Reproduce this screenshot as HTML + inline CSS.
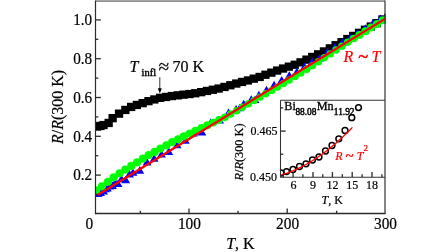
<!DOCTYPE html><html><head><meta charset="utf-8"><title>R/R(300 K) vs T</title>
<style>html,body{margin:0;padding:0;background:#fff;overflow:hidden}svg{display:block}text{font-family:"Liberation Serif",serif;fill:#000;stroke:#000;stroke-width:.2px}.i{font-style:italic}.r{fill:#f00;stroke:#f00}</style></head><body>
<svg width="448" height="252" viewBox="0 0 448 252">
<rect width="448" height="252" fill="#fff"/>
<defs><clipPath id="c"><rect x="95.0" y="1.05" width="290.5" height="212.45"/></clipPath></defs>
<g clip-path="url(#c)">
<g fill="#000"><rect x="92.8" y="122.4" width="8.3" height="8.3"/><rect x="96.2" y="121.8" width="8.3" height="8.3"/><rect x="99.4" y="120.9" width="8.3" height="8.3"/><rect x="104.5" y="118.8" width="8.3" height="8.3"/><rect x="108.5" y="114.0" width="8.3" height="8.3"/><rect x="114.9" y="109.5" width="8.3" height="8.3"/><rect x="121.2" y="105.8" width="8.3" height="8.3"/><rect x="127.0" y="102.8" width="8.3" height="8.3"/><rect x="132.7" y="100.8" width="8.3" height="8.3"/><rect x="138.5" y="99.0" width="8.3" height="8.3"/><rect x="144.3" y="97.0" width="8.3" height="8.3"/><rect x="150.2" y="95.3" width="8.3" height="8.3"/><rect x="156.0" y="93.7" width="8.3" height="8.3"/><rect x="161.9" y="92.8" width="8.3" height="8.3"/><rect x="167.7" y="91.9" width="8.3" height="8.3"/><rect x="173.6" y="91.2" width="8.3" height="8.3"/><rect x="179.4" y="90.5" width="8.3" height="8.3"/><rect x="185.3" y="89.9" width="8.3" height="8.3"/><rect x="191.1" y="89.1" width="8.3" height="8.3"/><rect x="197.0" y="88.0" width="8.3" height="8.3"/><rect x="202.8" y="86.8" width="8.3" height="8.3"/><rect x="208.7" y="85.6" width="8.3" height="8.3"/><rect x="214.5" y="84.4" width="8.3" height="8.3"/><rect x="220.4" y="82.8" width="8.3" height="8.3"/><rect x="226.2" y="81.1" width="8.3" height="8.3"/><rect x="232.1" y="79.4" width="8.3" height="8.3"/><rect x="237.9" y="77.8" width="8.3" height="8.3"/><rect x="243.8" y="76.3" width="8.3" height="8.3"/><rect x="249.6" y="74.5" width="8.3" height="8.3"/><rect x="255.5" y="72.8" width="8.3" height="8.3"/><rect x="261.3" y="70.6" width="8.3" height="8.3"/><rect x="267.2" y="68.5" width="8.3" height="8.3"/><rect x="273.0" y="66.4" width="8.3" height="8.3"/><rect x="278.9" y="64.4" width="8.3" height="8.3"/><rect x="284.7" y="62.5" width="8.3" height="8.3"/><rect x="290.6" y="60.6" width="8.3" height="8.3"/><rect x="296.4" y="58.2" width="8.3" height="8.3"/><rect x="302.3" y="55.5" width="8.3" height="8.3"/><rect x="308.1" y="52.8" width="8.3" height="8.3"/><rect x="314.0" y="50.2" width="8.3" height="8.3"/><rect x="319.8" y="47.3" width="8.3" height="8.3"/><rect x="325.7" y="44.2" width="8.3" height="8.3"/><rect x="331.5" y="41.1" width="8.3" height="8.3"/><rect x="337.4" y="38.0" width="8.3" height="8.3"/><rect x="343.2" y="34.9" width="8.3" height="8.3"/><rect x="349.1" y="31.8" width="8.3" height="8.3"/><rect x="354.9" y="28.7" width="8.3" height="8.3"/><rect x="360.8" y="25.6" width="8.3" height="8.3"/><rect x="366.6" y="22.4" width="8.3" height="8.3"/><rect x="372.5" y="19.0" width="8.3" height="8.3"/><rect x="378.3" y="15.3" width="8.3" height="8.3"/><rect x="384.2" y="13.7" width="8.3" height="8.3"/></g>
<g fill="#00f"><path d="M93.6 196.9L102.4 196.9L98.0 189.3Z"/><path d="M96.1 196.0L104.9 196.0L100.5 188.4Z"/><path d="M99.2 194.5L108.0 194.5L103.6 186.9Z"/><path d="M101.1 192.3L109.9 192.3L105.5 184.7Z"/><path d="M103.0 191.5L111.8 191.5L107.4 183.9Z"/><path d="M105.6 189.4L114.4 189.4L110.0 181.8Z"/><path d="M108.1 189.0L116.9 189.0L112.5 181.4Z"/><path d="M110.9 186.1L119.7 186.1L115.3 178.5Z"/><path d="M113.7 187.0L122.5 187.0L118.1 179.4Z"/><path d="M117.1 182.3L125.9 182.3L121.5 174.7Z"/><path d="M121.3 183.2L130.1 183.2L125.7 175.6Z"/><path d="M125.1 177.4L133.9 177.4L129.5 169.8Z"/><path d="M128.6 175.8L137.4 175.8L133.0 168.2Z"/><path d="M135.4 173.7L144.2 173.7L139.8 166.1Z"/><path d="M142.6 165.4L151.4 165.4L147.0 157.8Z"/><path d="M149.8 161.8L158.6 161.8L154.2 154.2Z"/><path d="M157.1 157.5L165.9 157.5L161.5 149.9Z"/><path d="M164.4 154.9L173.2 154.9L168.8 147.3Z"/><path d="M172.7 148.3L181.5 148.3L177.1 140.7Z"/><path d="M180.9 143.8L189.7 143.8L185.3 136.2Z"/><path d="M189.1 136.5L197.9 136.5L193.5 128.9Z"/><path d="M197.5 135.5L206.3 135.5L201.9 127.9Z"/><path d="M206.4 125.9L215.2 125.9L210.8 118.3Z"/><path d="M215.3 123.5L224.1 123.5L219.7 115.9Z"/><path d="M224.1 116.1L232.9 116.1L228.5 108.5Z"/><path d="M231.7 112.5L240.5 112.5L236.1 104.9Z"/><path d="M239.3 107.3L248.1 107.3L243.7 99.7Z"/><path d="M246.9 102.8L255.7 102.8L251.3 95.2Z"/><path d="M254.5 98.4L263.3 98.4L258.9 90.8Z"/><path d="M262.1 93.4L270.9 93.4L266.5 85.8Z"/><path d="M269.7 88.4L278.5 88.4L274.1 80.8Z"/><path d="M277.3 83.6L286.1 83.6L281.7 76.0Z"/><path d="M284.9 78.8L293.7 78.8L289.3 71.2Z"/><path d="M292.5 75.1L301.3 75.1L296.9 67.5Z"/><path d="M300.1 70.1L308.9 70.1L304.5 62.5Z"/><path d="M307.7 65.0L316.5 65.0L312.1 57.4Z"/><path d="M315.3 61.4L324.1 61.4L319.7 53.8Z"/><path d="M322.9 55.5L331.7 55.5L327.3 47.9Z"/><path d="M330.5 50.7L339.3 50.7L334.9 43.1Z"/><path d="M338.1 45.5L346.9 45.5L342.5 37.9Z"/><path d="M345.7 41.2L354.5 41.2L350.1 33.6Z"/><path d="M353.3 36.5L362.1 36.5L357.7 28.9Z"/><path d="M360.9 31.9L369.7 31.9L365.3 24.3Z"/><path d="M368.5 26.7L377.3 26.7L372.9 19.1Z"/><path d="M376.1 22.1L384.9 22.1L380.5 14.5Z"/><path d="M235.3 111.3L244.1 111.3L239.7 103.7Z"/><path d="M250.6 103.0L259.4 103.0L255.0 95.4Z"/></g>
<g fill="#0f0"><circle cx="96.2" cy="190.4" r="4.10"/><circle cx="102.0" cy="186.3" r="4.10"/><circle cx="107.9" cy="181.8" r="4.10"/><circle cx="113.7" cy="177.3" r="4.10"/><circle cx="119.6" cy="173.3" r="4.10"/><circle cx="125.4" cy="169.6" r="4.10"/><circle cx="131.3" cy="165.9" r="4.10"/><circle cx="137.1" cy="162.3" r="4.10"/><circle cx="143.0" cy="158.6" r="4.10"/><circle cx="148.8" cy="155.1" r="4.10"/><circle cx="154.7" cy="151.9" r="4.10"/><circle cx="160.5" cy="148.6" r="4.10"/><circle cx="166.4" cy="145.3" r="4.10"/><circle cx="172.2" cy="142.1" r="4.10"/><circle cx="178.1" cy="139.3" r="4.10"/><circle cx="183.9" cy="136.4" r="4.10"/><circle cx="189.8" cy="133.6" r="4.10"/><circle cx="195.6" cy="130.8" r="4.10"/><circle cx="201.5" cy="128.0" r="4.08"/><circle cx="207.3" cy="125.3" r="4.02"/><circle cx="213.2" cy="122.6" r="3.95"/><circle cx="219.0" cy="119.9" r="3.88"/><circle cx="224.9" cy="117.2" r="3.82"/><circle cx="230.7" cy="114.1" r="3.75"/><circle cx="236.6" cy="110.7" r="3.70"/><circle cx="242.4" cy="107.2" r="3.70"/><circle cx="248.3" cy="103.8" r="3.70"/><circle cx="254.1" cy="100.4" r="3.70"/><circle cx="260.0" cy="97.1" r="3.70"/><circle cx="265.8" cy="93.8" r="3.70"/><circle cx="271.7" cy="90.4" r="3.70"/><circle cx="277.5" cy="87.1" r="3.70"/><circle cx="283.4" cy="83.6" r="3.70"/><circle cx="289.2" cy="80.0" r="3.70"/><circle cx="295.1" cy="76.4" r="3.70"/><circle cx="300.9" cy="72.9" r="3.70"/><circle cx="306.8" cy="69.3" r="3.70"/><circle cx="312.6" cy="65.6" r="3.70"/><circle cx="318.5" cy="61.7" r="3.70"/><circle cx="324.3" cy="57.8" r="3.70"/><circle cx="330.2" cy="53.9" r="3.70"/><circle cx="336.0" cy="50.0" r="3.70"/><circle cx="341.9" cy="46.2" r="3.72"/><circle cx="347.7" cy="42.3" r="3.79"/><circle cx="353.6" cy="38.5" r="3.86"/><circle cx="359.4" cy="34.9" r="3.93"/><circle cx="365.3" cy="31.2" r="4.00"/><circle cx="371.1" cy="27.5" r="4.00"/><circle cx="377.0" cy="23.9" r="4.00"/><circle cx="382.8" cy="20.2" r="4.00"/><circle cx="388.7" cy="16.6" r="4.00"/></g>
<line x1="97.6" y1="195.0" x2="386" y2="18.2" stroke="#f00" stroke-width="2.3"/>
</g>
<rect x="280.5" y="100.3" width="104.5" height="77.00000000000001" fill="#fff"/>
<defs><clipPath id="ci"><rect x="280.5" y="100.3" width="104.5" height="77.00000000000001"/></clipPath></defs>
<g clip-path="url(#ci)">
<g fill="none" stroke="#000" stroke-width="1.5"><circle cx="281" cy="173" r="2.9"/><circle cx="286.5" cy="171.6" r="2.9"/><circle cx="293" cy="169.5" r="2.9"/><circle cx="299.5" cy="166.5" r="2.9"/><circle cx="306" cy="163.8" r="2.9"/><circle cx="312.5" cy="160" r="2.9"/><circle cx="319" cy="157" r="2.9"/><circle cx="325.5" cy="151" r="2.9"/><circle cx="332" cy="145.5" r="2.9"/><circle cx="338.8" cy="138.8" r="2.9"/><circle cx="345" cy="130.5" r="2.9"/><circle cx="351.8" cy="117.7" r="2.9"/><circle cx="358.5" cy="107.6" r="2.9"/></g>
<polyline fill="none" stroke="#f00" stroke-width="1.3" points="280.4,175.2 282.4,174.6 284.4,173.9 286.4,173.3 288.4,172.6 290.4,171.8 292.4,171.0 294.4,170.1 296.4,169.3 298.4,168.3 300.4,167.4 302.4,166.4 304.4,165.3 306.4,164.2 308.4,163.1 310.4,161.9 312.4,160.7 314.4,159.4 316.4,158.1 318.4,156.7 320.4,155.4 322.4,153.9 324.4,152.4 326.4,150.9 328.4,149.4 330.4,147.8 332.4,146.1 334.4,144.4 336.4,142.7 338.4,141.0 340.4,139.1 342.4,137.3 344.4,135.4 346.4,133.5 348.4,131.5 350.4,129.5 352.4,127.4"/>
</g>
<g stroke="#2a2a2a" stroke-width="1.3" fill="none">
<path d="M95.5 0.55V214.15" stroke-width="1.2"/><path d="M94.9 213.5H385.6" stroke-width="1.3"/><path d="M95.5 1.05H385.0" stroke-width="1.0" stroke="#3a3a3a"/><path d="M385.0 0.55V213.5" stroke-width="1.2" stroke="#333"/>
<line x1="95.5" y1="19.9" x2="100.8" y2="19.9"/>
<line x1="95.5" y1="58.7" x2="100.8" y2="58.7"/>
<line x1="95.5" y1="97.5" x2="100.8" y2="97.5"/>
<line x1="95.5" y1="136.3" x2="100.8" y2="136.3"/>
<line x1="95.5" y1="175.1" x2="100.8" y2="175.1"/>
<line x1="95.5" y1="39.3" x2="98.3" y2="39.3"/>
<line x1="95.5" y1="78.1" x2="98.3" y2="78.1"/>
<line x1="95.5" y1="116.9" x2="98.3" y2="116.9"/>
<line x1="95.5" y1="155.7" x2="98.3" y2="155.7"/>
<line x1="95.5" y1="194.5" x2="98.3" y2="194.5"/>
<line x1="189" y1="213.5" x2="189" y2="208.5"/>
<line x1="287.2" y1="213.5" x2="287.2" y2="208.5"/>
<line x1="140.3" y1="213.5" x2="140.3" y2="210.7"/>
<line x1="238" y1="213.5" x2="238" y2="210.7"/>
<line x1="336.6" y1="213.5" x2="336.6" y2="210.7"/>
<path d="M280.5 100.3V177.3H385.0M280.5 100.3H385.0" stroke-width="1.05" stroke="#333"/>
<line x1="280.5" y1="131.1" x2="285.7" y2="131.1"/>
<line x1="280.5" y1="107.9" x2="283.3" y2="107.9"/>
<line x1="280.5" y1="154.2" x2="283.3" y2="154.2"/>
<line x1="293.1" y1="177.3" x2="293.1" y2="172.10000000000002"/>
<line x1="313.0" y1="177.3" x2="313.0" y2="172.10000000000002"/>
<line x1="332.4" y1="177.3" x2="332.4" y2="172.10000000000002"/>
<line x1="352.2" y1="177.3" x2="352.2" y2="172.10000000000002"/>
<line x1="372.0" y1="177.3" x2="372.0" y2="172.10000000000002"/>
<line x1="283.4" y1="177.3" x2="283.4" y2="174.3"/>
<line x1="302.9" y1="177.3" x2="302.9" y2="174.3"/>
<line x1="322.8" y1="177.3" x2="322.8" y2="174.3"/>
<line x1="342.3" y1="177.3" x2="342.3" y2="174.3"/>
<line x1="362.1" y1="177.3" x2="362.1" y2="174.3"/>
<line x1="381.9" y1="177.3" x2="381.9" y2="174.3"/>
</g>
<text transform="translate(92.2 25.1) scale(.95 1)" font-size="16" text-anchor="end">1.0</text>
<text transform="translate(92.2 63.9) scale(.95 1)" font-size="16" text-anchor="end">0.8</text>
<text transform="translate(92.2 102.7) scale(.95 1)" font-size="16" text-anchor="end">0.6</text>
<text transform="translate(92.2 141.5) scale(.95 1)" font-size="16" text-anchor="end">0.4</text>
<text transform="translate(92.2 180.3) scale(.95 1)" font-size="16" text-anchor="end">0.2</text>
<text transform="translate(89.4 229.2) scale(.96 1)" font-size="16" text-anchor="middle">0</text>
<text transform="translate(189.4 229.2) scale(.96 1)" font-size="16" text-anchor="middle">100</text>
<text transform="translate(287.6 229.2) scale(.96 1)" font-size="16" text-anchor="middle">200</text>
<text transform="translate(385.5 229.2) scale(.96 1)" font-size="16" text-anchor="middle">300</text>
<text x="226.2" y="248.6" font-size="16"><tspan class="i">T</tspan>, K</text>
<text transform="translate(63.1 144.1) rotate(-90)" font-size="16"><tspan class="i">R</tspan>/<tspan class="i">R</tspan>(300 K)</text>
<text x="129.6" y="72" font-size="16" class="i">T</text>
<text x="141.6" y="75.5" font-size="10.5" style="stroke-width:.4px">infl</text>
<text x="158.6" y="73.1" font-size="19.5">≈</text><text x="172.4" y="72" font-size="16">70 K</text>
<path d="M159.8 77.2V91" stroke="#000" stroke-width="0.8" fill="none"/><path d="M157.8 88.3L161.8 88.3L159.8 93.4Z" fill="#000"/>
<text x="343.6" y="61.7" font-size="16" class="i r">R</text><text x="358.0" y="62.6" font-size="18.5" class="i r" style="stroke-width:.5px">~</text><text x="371.6" y="61.7" font-size="16" class="i r">T</text>
<text x="284.3" y="110.4" font-size="12.2" style="stroke-width:.3px">Bi</text><text x="295.4" y="115" font-size="9.4" style="stroke-width:.45px">88.08</text><text x="316.7" y="110.4" font-size="12.2" style="stroke-width:.3px">Mn</text><text x="333.8" y="115" font-size="9.4" style="stroke-width:.45px">11.92</text>
<text x="277.4" y="135.2" font-size="12" text-anchor="end">0.465</text>
<text x="277.0" y="180.6" font-size="12" text-anchor="end">0.450</text>
<text x="293.4" y="188.8" font-size="12" text-anchor="middle">6</text>
<text x="312.9" y="188.8" font-size="12" text-anchor="middle">9</text>
<text x="332.6" y="188.8" font-size="12" text-anchor="middle">12</text>
<text x="352.3" y="188.8" font-size="12" text-anchor="middle">15</text>
<text x="372.0" y="188.8" font-size="12" text-anchor="middle">18</text>
<text x="321.6" y="203.5" font-size="12"><tspan class="i">T</tspan>, K</text>
<text transform="translate(242.7 180.5) rotate(-90)" font-size="12.3"><tspan class="i">R</tspan>/<tspan class="i">R</tspan>(300 K)</text>
<text x="335.2" y="160.3" font-size="12" class="i r">R</text><text x="345.4" y="161.1" font-size="14.5" class="i r" style="stroke-width:.45px">~</text><text x="356.8" y="160.3" font-size="12" class="i r">T</text><text x="363.6" y="151.2" font-size="9" class="r">2</text>
</svg></body></html>
